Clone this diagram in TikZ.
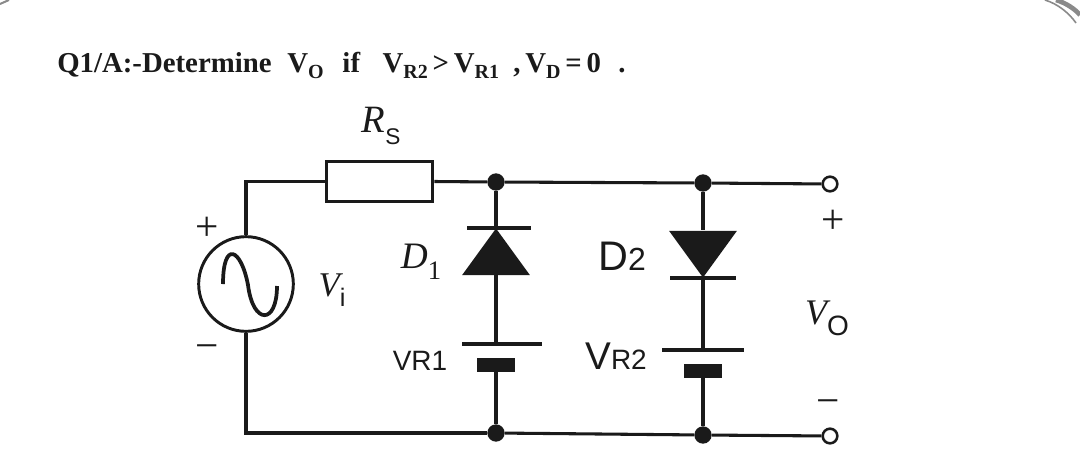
\documentclass[tikz,border=0pt]{standalone}
\usepackage{fontspec}
\setmainfont{Liberation Serif}
\setsansfont{Liberation Sans}
\usepackage{tikz}
\usetikzlibrary{shapes.geometric}
\definecolor{inkblack}{HTML}{1A1A1A}
\definecolor{edgegray}{HTML}{8A8A8A}
\newcommand{\lowtxt}[1]{\raisebox{-0.22em}{\fontsize{15}{15}\selectfont #1}}
\tikzset{
	wire/.style={draw=inkblack,line width=2.3pt},
	dot/.style={circle,fill=inkblack,inner sep=0pt,minimum size=13pt},
	port/.style={circle,draw=inkblack,fill=white,line width=1.9pt,inner sep=0pt,minimum size=11pt},
	platebar/.style={rectangle,fill=inkblack,inner sep=0pt,minimum height=2.3pt},
	cellbar/.style={rectangle,fill=inkblack,inner sep=0pt,minimum width=29pt,minimum height=10.5pt},
	arrowbody/.style={isosceles triangle,isosceles triangle apex angle=72,fill=inkblack,inner sep=0pt,minimum height=35pt,anchor=apex},
	sign/.style={font=\fontsize{31}{31}\selectfont,text=inkblack,inner sep=0pt},
	symb/.style={font=\fontsize{26}{26}\selectfont\itshape,text=inkblack,inner sep=0pt},
	tag/.style={font=\sffamily\fontsize{21}{21}\selectfont,text=inkblack,inner sep=0pt}
}
\begin{document}
\begin{tikzpicture}[x=0.75pt,y=0.75pt]
	\useasboundingbox (0,0) rectangle (1080,-465);
	% corners of the page
	\draw [edgegray,line width=1.5pt] (0,-4) -- (9,0);
	\draw [edgegray,line width=3.5pt] (1056,0) .. controls (1066,-3) and (1075,-9) .. (1080,-15);
	\draw [edgegray,line width=1.2pt] (1045,0) .. controls (1058,-4) and (1069,-13) .. (1076,-23);
	% title
	\node (title) [anchor=base west,inner sep=0pt,font=\bfseries\fontsize{21.6}{21.6}\selectfont,text=inkblack] at (57,-72)
		{Q1/A:-Determine\hspace{0.55em}V\lowtxt{O}\hspace{0.65em}if\hspace{0.78em}V\lowtxt{R2}\,>\,V\lowtxt{R1}\hspace{0.5em},\,V\lowtxt{D}\,=\,0\hspace{0.6em}.};
	% junctions and ports
	\node (jtopa) [dot] at (496,-182) {};
	\node (jtopb) [dot] at (703,-183) {};
	\node (jbota) [dot] at (496,-433) {};
	\node (jbotb) [dot] at (703,-435) {};
	\node (outtop) [port] at (830,-184) {};
	\node (outbot) [port] at (830,-436) {};
	% source and resistor
	\node (vsrc) [circle,draw=inkblack,line width=2.2pt,fill=white,inner sep=0pt,minimum size=71pt] at (246,-284) {};
	\node (rs) [rectangle,draw=inkblack,line width=2.4pt,inner sep=0pt,minimum width=80pt,minimum height=29.5pt] at (379.5,-181.5) {};
	% first branch
	\node (barone) [platebar,minimum width=48pt] at (499,-228) {};
	\node (triaone) [arrowbody,shape border rotate=90] at (496,-228) {};
	\coordinate (midone) at (496,-275);
	\node (plateone) [platebar,minimum width=60pt] at (502,-344) {};
	\node (cellone) [cellbar] at (496,-365) {};
	% second branch
	\node (triatwo) [arrowbody,shape border rotate=-90] at (703,-278) {};
	\coordinate (midtwo) at (703,-230);
	\node (bartwo) [platebar,minimum width=50pt] at (703,-278) {};
	\node (platetwo) [platebar,minimum width=62pt] at (703,-350) {};
	\node (celltwo) [cellbar] at (703,-371) {};
	% wires
	\draw [wire] (vsrc.north) |- (rs.west);
	\draw [wire] (rs.east) -- (jtopa) -- (jtopb) -- (outtop);
	\draw [wire] (vsrc.south) |- (jbota);
	\draw [wire] (jbota) -- (jbotb) -- (outbot);
	\draw [wire] (jtopa) -- (barone.center -| jtopa);
	\draw [wire] (midone) -- (plateone.center -| midone);
	\draw [wire] (cellone) -- (jbota);
	\draw [wire] (jtopb) -- (midtwo);
	\draw [wire] (bartwo) -- (platetwo);
	\draw [wire] (celltwo) -- (jbotb);
	% sine wave of the source
	\draw [inkblack,line width=2.8pt] (223,-284) .. controls (223,-240) and (241,-248) .. (248,-285)
		.. controls (253,-325) and (277,-325) .. (277,-286);
	% labels
	\node (rslabel) [symb,font=\fontsize{29}{29}\selectfont\itshape] at (381,-126) {R\raisebox{-0.3em}{\sffamily\upshape\fontsize{17}{17}\selectfont S}};
	\node (pluslabel) [sign] at (207,-229) {+};
	\node (minuslabel) [sign] at (207,-352) {\textminus};
	\node (vilabel) [symb] at (332,-290) {V\raisebox{-0.3em}{\sffamily\upshape\fontsize{19}{19}\selectfont i}};
	\node (doneabel) [symb,font=\fontsize{28}{28}\selectfont\itshape] at (421,-262) {D\raisebox{-0.3em}{\upshape\fontsize{20}{20}\selectfont 1}};
	\node (dtwolabel) [tag,font=\sffamily\fontsize{31}{31}\selectfont] at (622,-256) {D\fontsize{24}{24}\selectfont 2};
	\node (vroneabel) [tag] at (420,-361) {VR1};
	\node (vrtwolabel) [tag] at (616,-356) {\fontsize{29}{29}\selectfont V\fontsize{21}{21}\selectfont R2};
	\node (poslabel) [sign] at (833,-222) {+};
	\node (voutlabel) [symb,font=\fontsize{27}{27}\selectfont\itshape] at (827,-318) {V\raisebox{-0.3em}{\sffamily\upshape\fontsize{21}{21}\selectfont O}};
	\node (neglabel) [sign] at (828,-407) {\textminus};
\end{tikzpicture}
\end{document}
